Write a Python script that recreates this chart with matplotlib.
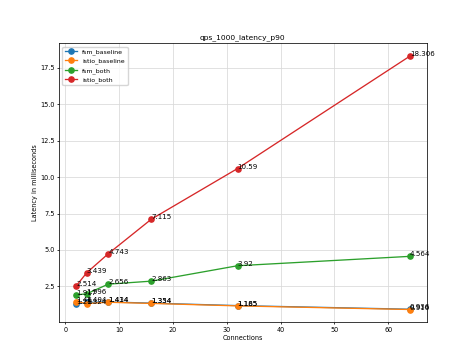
import matplotlib
matplotlib.use("Agg")
import matplotlib.pyplot as plt

connections = [2, 4, 8, 16, 32, 64]
fsm_baseline = [1.28, 1.404, 1.434, 1.354, 1.185, 0.936]
istio_baseline = [1.46, 1.324, 1.414, 1.334, 1.165, 0.916]
fsm_both = [1.917, 1.996, 2.656, 2.863, 3.92, 4.564]
istio_both = [2.514, 3.439, 4.743, 7.115, 10.59, 18.306]

series = [("fsm_baseline", fsm_baseline), ("istio_baseline", istio_baseline),
          ("fsm_both", fsm_both), ("istio_both", istio_both)]

s = 0.45
plt.rcParams['font.size'] = 10 * s * 1.05
plt.rcParams['axes.linewidth'] = 0.8 * s * 1.5
plt.rcParams['xtick.major.width'] = 0.8 * s * 1.5
plt.rcParams['ytick.major.width'] = 0.8 * s * 1.5
plt.rcParams['xtick.major.size'] = 3.5 * s
plt.rcParams['ytick.major.size'] = 3.5 * s
plt.rcParams['xtick.major.pad'] = 3.5 * s
plt.rcParams['ytick.major.pad'] = 3.5 * s
plt.rcParams['grid.linewidth'] = 0.8 * s * 1.5
fig, ax = plt.subplots(figsize=(4.74, 3.62), dpi=100)
for name, vals in series:
    ax.plot(connections, vals, marker='o', label=name, linewidth=1.5 * s * 1.4, markersize=6 * s * 1.4)
    for x, v in zip(connections, vals):
        ax.text(x, v, str(v), fontsize=10 * s * 1.15)
ax.set_title("qps_1000_latency_p90", fontsize=12 * s, pad=6 * s)
ax.set_xlabel("Connections", labelpad=4 * s)
ax.set_ylabel("Latency in milliseconds", labelpad=4 * s)
ax.grid(True, color='#d8d8d8')
ax.legend(loc='upper left', fontsize=10 * s)
fig.savefig("out.png", dpi=100)
